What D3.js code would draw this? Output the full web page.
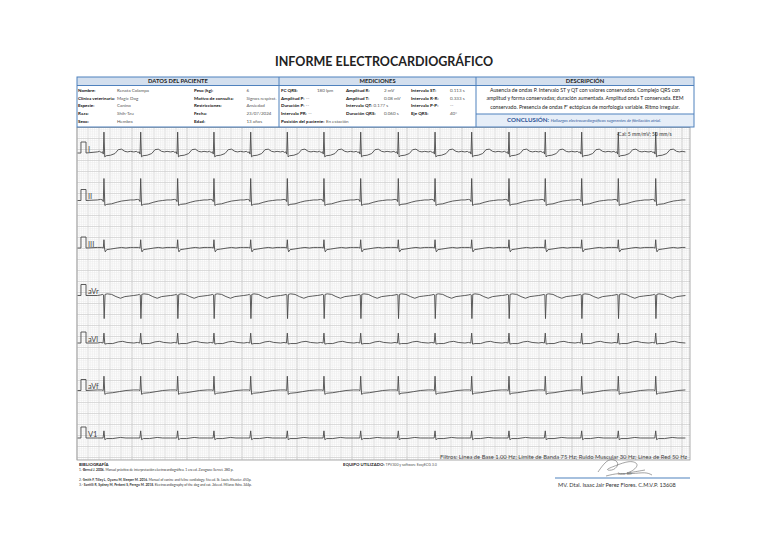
<!DOCTYPE html>
<html><head><meta charset="utf-8">
<script src="https://cdn.jsdelivr.net/npm/d3@7"></script>
<style>body{margin:0;background:#fff}svg{display:block}text{font-family:Lato,"Open Sans",sans-serif}</style>
</head><body><svg id="c" width="768" height="543"></svg>
<script>
// ---------- DATA ----------
const leads = ["I","II","III","aVr","aVl","aVf","V1"];
// R-peak times (s) read from the strip
const rPeaks = [0.245,0.579,0.915,1.245,1.579,1.912,2.245,2.579,2.921,3.255,3.588,3.927,4.257,4.588,4.921,5.261];
// beat templates: [ms relative to R, mV]
const beatI   = [[-60,0.1],[-40,0.15],[-25,0.05],[-12,0.1],[-6,-0.1],[0,1.9],[7,-0.35],[20,-0.25],[60,-0.2],[100,-0.05],[130,0.3],[160,0.35],[190,0.15],[215,0.1],[240,0.15],[270,0.1]];
const beatII  = [[-60,0.05],[-30,0.1],[-12,0.05],[-6,-0.1],[0,2.0],[8,-0.45],[25,-0.35],[70,-0.3],[120,-0.15],[160,-0.05],[200,0],[240,0.05],[270,0.05]];
const beatIII = [[-60,0.05],[-20,0.05],[-6,0],[0,0.75],[6,-0.1],[12,-0.35],[25,-0.15],[60,-0.1],[120,0],[160,0.05],[200,0],[240,0.05],[270,0.05]];
const beatAVR = [[-60,0],[-30,0.05],[-10,0.1],[-4,0.05],[2,-2.1],[10,0.1],[30,0.15],[70,0.1],[110,-0.1],[150,-0.25],[190,-0.1],[230,-0.05],[270,0]];
const beatAVL = [[-60,0],[-30,0.05],[-8,0],[0,0.9],[8,-0.1],[30,-0.05],[80,-0.05],[130,0.1],[170,0.15],[210,0.05],[270,0]];
const beatAVF = [[-60,0.05],[-20,0.05],[-6,0],[0,1.3],[8,-0.35],[25,-0.25],[80,-0.2],[140,-0.1],[200,0],[270,0.05]];
const beatV1  = [[-60,0],[-8,0],[0,0.65],[8,-0.15],[25,-0.05],[80,-0.05],[150,0.05],[200,0],[270,0]];
const templates = [beatI,beatII,beatIII,beatAVR,beatAVL,beatAVF,beatV1];
// calibration pulse (s, mV)
const calT = [0.005,0.036,0.036,0.082,0.082];
const calV = [0,0,1,1,0];

const title = "INFORME ELECTROCARDIOGRÁFICO";
const patientLabels1 = ["Nombre:","Clínica veterinaria:","Especie:","Raza:","Sexo:"];
const patientValues1 = ["Renata Colampa","Magic Dog","Canino","Shih-Tzu","Hembra"];
const patientLabels2 = ["Peso (kg):","Motivo de consulta:","Restricciones:","Fecha:","Edad:"];
const patientValues2 = ["6","Signos respirat.","Ansiedad","23/07/2024","13 años"];
const measLabels1 = ["FC QRS:","Amplitud P:","Duración P:","Intervalo PR:"];
const measValues1 = ["180 lpm","--","--","--"];
const measLabels2 = ["Amplitud R:","Amplitud T:","Intervalo QT:","Duración QRS:"];
const measValues2 = ["2 mV","0.08 mV","0.177 s","0.060 s"];
const measLabels3 = ["Intervalo ST:","Intervalo R-R:","Intervalo P-P:","Eje QRS:"];
const measValues3 = ["0.113 s","0.333 s","--","40°"];
const descLines = [
 "Ausencia de ondas P. Intervalo ST y QT con valores conservados. Complejo QRS con",
 "amplitud y forma conservadas; duración aumentada. Amplitud onda T conservada. EEM",
 "conservado. Presencia de ondas F' ectópicas de morfología variable. Ritmo irregular."];
const biblio = [
 ["1.-","Bernal J. 2006.","  Manual práctico de interpretación electrocardiográfica. 1 era ed. Zaragoza: Servet. 280 p."],
 ["2.-","Smith F, Tilley L, Oyama M, Sleeper M. 2016.","  Manual of canine and feline cardiology. 5ta ed. St. Louis: Elsevier. 453p."],
 ["3.- ","Santilli R, Sydney M, Perbeni S, Perego M. 2018.","  Electrocardiography of the dog and cat. 2da ed. Milano: Edra. 344p."]];

// ---------- DRAW ----------
const svg = d3.select("#c");
svg.append("rect").attr("width",768).attr("height",543).attr("fill","#fff");

svg.append("text").attr("x",384).attr("y",66).attr("text-anchor","middle")
  .attr("font-size",12.5).attr("font-weight",700).attr("fill","#222").text(title);

// ECG grid
const gx0=77, gx1=690, gy0=127.5, gy1=460, pxmm=2.2;
const g = svg.append("g");
const nX = Math.floor((gx1-gx0)/pxmm), nY = Math.floor((gy1-gy0)/pxmm);
g.selectAll(".vx").data(d3.range(nX+1)).join("line")
  .attr("x1",d=>gx0+d*pxmm).attr("x2",d=>gx0+d*pxmm).attr("y1",gy0).attr("y2",gy1)
  .attr("stroke",d=>d%25===0?"#b5b5b5":d%5===0?"#cfcfcf":"#ebebeb").attr("stroke-width",d=>d%5===0?0.8:0.6);
g.selectAll(".hy").data(d3.range(nY+1)).join("line")
  .attr("y1",d=>gy0+d*pxmm).attr("y2",d=>gy0+d*pxmm).attr("x1",gx0).attr("x2",gx1)
  .attr("stroke",d=>d%5===0?"#d2d2d2":"#ebebeb").attr("stroke-width",d=>d%5===0?0.8:0.6);
g.append("rect").attr("x",gx0).attr("y",gy0).attr("width",gx1-gx0).attr("height",gy1-gy0)
  .attr("fill","none").attr("stroke","#9a9a9a").attr("stroke-width",0.8);

const x = d3.scaleLinear().domain([0,(gx1-gx0)/(pxmm*50)]).range([gx0,gx1]);
const leadPos = d3.scalePoint().domain(leads).range([153,438]);
const mvPx = 5*pxmm;

leads.forEach((ld,i)=>{
  const base = leadPos(ld);
  const y = d3.scaleLinear().domain([0,1]).range([base,base-mvPx]);
  const pts = calT.map((t,k)=>[t,calV[k]]);
  rPeaks.forEach(r=>{ templates[i].forEach(([dt,v])=>{ pts.push([r+dt/1000,v]); }); });
  const line = d3.line().x(d=>x(d[0])).y(d=>y(d[1]));
  svg.append("path").attr("d",line(pts)).attr("fill","none")
    .attr("stroke","#4a4a4a").attr("stroke-width",0.9).attr("stroke-linejoin","round");
  svg.append("text").attr("x",x(0.1)).attr("y",base-1.5).attr("font-size",7.5)
    .attr("font-family","Liberation Mono, DejaVu Sans Mono, monospace").attr("fill","#444").text(ld);
});

svg.append("text").attr("x",617).attr("y",136).attr("font-size",5).attr("fill","#333").text("·Cal: 5 mm/mV; 50 mm/s");
svg.append("text").attr("x",440).attr("y",459).attr("font-size",5.8).attr("fill","#444")
  .text("Filtros: Línea de Base 1.00 Hz; Límite de Banda 75 Hz; Ruido Muscular 30 Hz; Línea de Red 50 Hz");

// ---------- TABLE ----------
const blue = "#4f81bd";
const T = svg.append("g");
const tx0=77, tx1=694, ty0=77, ty1=127, hy=85.5, c1=279, c2=476;
T.append("rect").attr("x",tx0).attr("y",ty0).attr("width",tx1-tx0).attr("height",hy-ty0).attr("fill","#d3dfee");
T.append("rect").attr("x",c2).attr("y",114).attr("width",tx1-c2).attr("height",ty1-114).attr("fill","#e6eef8");
T.append("rect").attr("x",tx0).attr("y",ty0).attr("width",tx1-tx0).attr("height",ty1-ty0).attr("fill","none").attr("stroke",blue).attr("stroke-width",1);
[[tx0,hy,tx1,hy],[c1,ty0,c1,ty1],[c2,ty0,c2,ty1],[c2,114,tx1,114]].forEach(l=>
  T.append("line").attr("x1",l[0]).attr("y1",l[1]).attr("x2",l[2]).attr("y2",l[3]).attr("stroke",blue).attr("stroke-width",1));
[["DATOS DEL PACIENTE",(tx0+c1)/2],["MEDICIONES",(c1+c2)/2],["DESCRIPCIÓN",(c2+tx1)/2]].forEach(h=>
  T.append("text").attr("x",h[1]).attr("y",83.3).attr("text-anchor","middle").attr("font-size",5.8).attr("font-weight",700).attr("fill","#222").text(h[0]));

const rowY = d3.scalePoint().domain(d3.range(5)).range([91.8,122.8]);
const fs = 4.5;
const lab = (xx,yy,t)=>T.append("text").attr("x",xx).attr("y",yy).attr("font-size",fs).attr("font-weight",700).attr("fill","#111").text(t);
const pair = (lx,vx,yy,l,v)=>{
  const n = lab(lx,yy,l);
  const end = lx + n.node().getComputedTextLength() + 1.5;
  T.append("text").attr("x",Math.max(vx,end)).attr("y",yy).attr("font-size",fs).attr("fill","#555").text(v);
};
patientLabels1.forEach((t,i)=>pair(78,117,rowY(i),t,patientValues1[i]));
patientLabels2.forEach((t,i)=>pair(194,246.5,rowY(i),t,patientValues2[i]));
measLabels1.forEach((t,i)=>pair(281,i===0?317:305,rowY(i),t,measValues1[i]));
measLabels2.forEach((t,i)=>pair(346,i===2?367:384,rowY(i),t,measValues2[i]));
measLabels3.forEach((t,i)=>pair(411,450,rowY(i),t,measValues3[i]));
pair(281,0,rowY(4),"Posición del paciente:","En estación");

descLines.forEach((t,i)=>T.append("text").attr("x",(c2+tx1)/2).attr("y",91.6+i*8.7).attr("text-anchor","middle").attr("font-size",5.2).attr("fill","#222").text(t));
const cc = T.append("text").attr("x",507).attr("y",121.8).attr("fill","#2e5597");
cc.append("tspan").attr("font-size",6.2).attr("font-weight",700).text("CONCLUSIÓN: ");
cc.append("tspan").attr("font-size",4.3).attr("font-style","italic").text("Hallazgos electrocardiográficos sugerentes de fibrilación atrial.");

// ---------- FOOTER ----------
svg.append("text").attr("x",79).attr("y",465.5).attr("font-size",4.3).attr("font-weight",700).attr("fill","#222").text("BIBLIOGRAFÍA");
[470.5,480.5,485.5].forEach((yy,i)=>{
  const t = svg.append("text").attr("x",79).attr("y",yy).attr("font-size",3.3).attr("fill","#333");
  t.append("tspan").text(biblio[i][0]);
  t.append("tspan").attr("font-weight",700).text(biblio[i][1]);
  t.append("tspan").text(biblio[i][2]);
});
const eq = svg.append("text").attr("x",343).attr("y",465.5).attr("font-size",4.3).attr("fill","#222");
eq.append("tspan").attr("font-weight",700).text("EQUIPO UTILIZADO: ");
eq.append("tspan").attr("font-size",3.6).attr("fill","#555").text("TPV300 y software EasyECG 3.0");

// signature (decorative)
const sig = d3.line().curve(d3.curveBasis);
const sigStrokes = [
  [[598,472],[605,462],[612,458],[620,463],[614,471],[604,470],[615,466],[630,460],[640,464],[632,472],[622,474],[645,470]],
  [[606,476],[618,473],[632,474],[646,472],[652,475]]];
sigStrokes.forEach(s=>svg.append("path").attr("d",sig(s)).attr("fill","none").attr("stroke","#666").attr("stroke-width",0.6));
svg.append("text").attr("x",618).attr("y",475).attr("font-size",3.5).attr("fill","#666").text("Isaac Jair");

svg.append("line").attr("x1",555).attr("x2",690).attr("y1",478).attr("y2",478).attr("stroke",blue).attr("stroke-width",1.2);
svg.append("text").attr("x",558).attr("y",487).attr("font-size",5.6).attr("fill","#333").text("MV. Dtal. Isaac Jair Perez Flores. C.M.V.P. 13608");
</script></body></html>
